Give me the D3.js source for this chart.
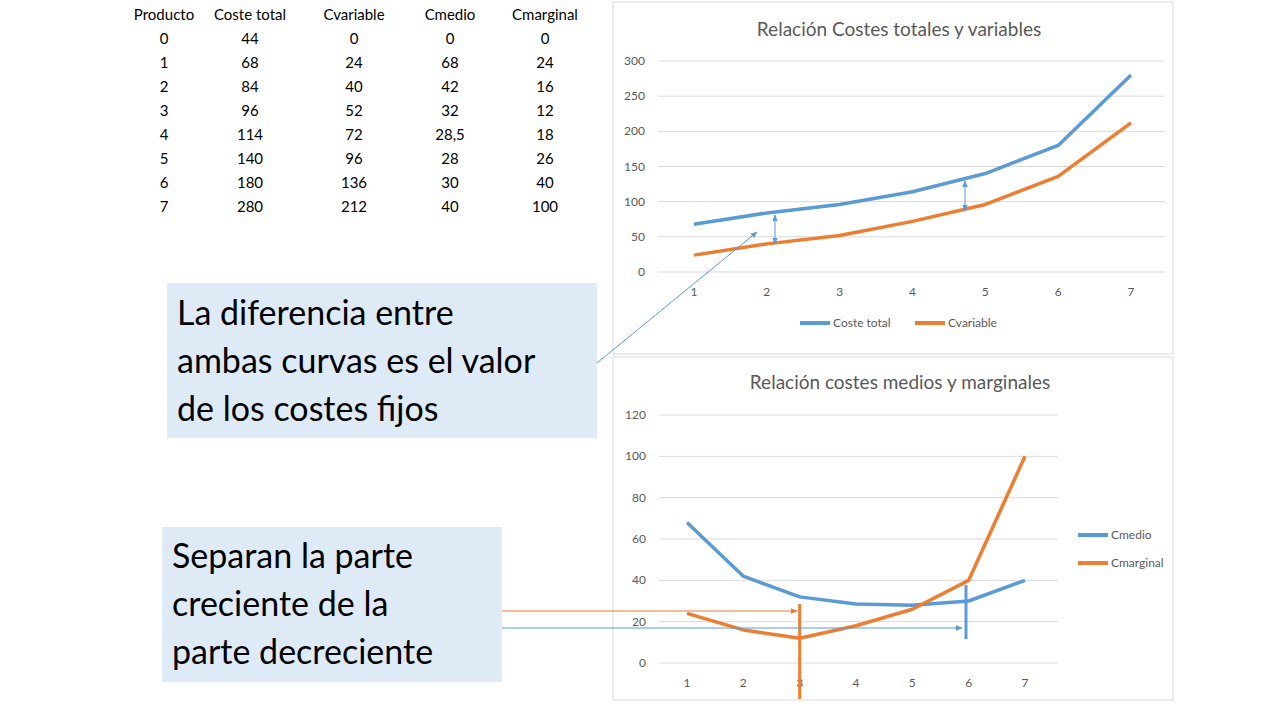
<!DOCTYPE html><html><head><meta charset="utf-8"><script src="https://cdn.jsdelivr.net/npm/d3@7"></script>
<style>body{margin:0;background:#fff}svg{font-family:Lato,"Open Sans",sans-serif}</style></head><body>
<script>
const headers=["Producto","Coste total","Cvariable","Cmedio","Cmarginal"];
const producto=[0,1,2,3,4,5,6,7];
const costeTotal=[44,68,84,96,114,140,180,280];
const cvariable=[0,24,40,52,72,96,136,212];
const cmedio=["0","68","42","32","28,5","28","30","40"];
const cmarginal=[0,24,16,12,18,26,40,100];
const cmedioVals=[68,42,32,28.5,28,30,40];
const blue="#5b9bd5",orange="#ed7d31";
const svg=d3.select("body").append("svg").attr("width",1280).attr("height",720);
const defs=svg.append("defs");
[["ab",blue],["ao",orange]].forEach(([id,c])=>{
 defs.append("marker").attr("id",id).attr("viewBox","0 0 10 10").attr("refX",9).attr("refY",5).attr("markerWidth",7).attr("markerHeight",7).attr("orient","auto-start-reverse").append("path").attr("d","M0,1L10,5L0,9Z").attr("fill",c);
});
defs.append("clipPath").attr("id","cl").append("rect").attr("x",613).attr("y",0).attr("width",552).attr("height",720);
// table
const cols=[164,250,354,450,545];
const tbl=[producto,costeTotal,cvariable,cmedio,cmarginal];
headers.forEach((h,i)=>{
 svg.append("text").attr("x",cols[i]).attr("y",20).attr("text-anchor","middle").attr("font-size",15).text(h);
 tbl[i].forEach((v,j)=>svg.append("text").attr("x",cols[i]).attr("y",44+24*j).attr("text-anchor","middle").attr("font-size",15).text(v));
});
// frames
svg.append("rect").attr("x",613).attr("y",2).attr("width",560).attr("height",352).attr("fill","none").attr("stroke","#d9d9d9");
svg.append("rect").attr("x",613).attr("y",357).attr("width",560).attr("height",343).attr("fill","none").attr("stroke","#d9d9d9");
const xs=[1,2,3,4,5,6,7];
function chart(cfg){
 const g=svg.append("g").attr("clip-path","url(#cl)");
 const x=d3.scalePoint().domain(xs).range(cfg.xr);
 const y=d3.scaleLinear().domain([0,cfg.ymax]).range(cfg.yr);
 const ticks=d3.range(0,cfg.ymax+1,cfg.step);
 g.selectAll(".gl").data(ticks).join("line").attr("x1",cfg.gx[0]).attr("x2",cfg.gx[1]).attr("y1",d=>y(d)).attr("y2",d=>y(d)).attr("stroke","#d9d9d9");
 g.selectAll(".yl").data(ticks).join("text").attr("x",cfg.gx[0]-13).attr("y",d=>y(d)+4).attr("text-anchor","end").attr("font-size",12).attr("fill","#595959").text(d=>d);
 g.selectAll(".xl").data(xs).join("text").attr("x",d=>x(d)).attr("y",cfg.yr[0]+24).attr("text-anchor","middle").attr("font-size",12).attr("fill","#595959").text(d=>d);
 g.append("text").attr("x",cfg.tx).attr("y",cfg.ty).attr("text-anchor","middle").attr("font-size",19).attr("fill","#595959").text(cfg.title);
 const line=d3.line().x((d,i)=>x(xs[i])).y(d=>y(d));
 cfg.series.forEach(s=>g.append("path").attr("d",line(s.v)).attr("fill","none").attr("stroke",s.c).attr("stroke-width",3.5).attr("stroke-linejoin","round"));
 cfg.series.forEach((s,i)=>{
  const [lx,ly]=cfg.leg[i];
  g.append("line").attr("x1",lx).attr("x2",lx+30).attr("y1",ly).attr("y2",ly).attr("stroke",s.c).attr("stroke-width",4);
  g.append("text").attr("x",lx+33).attr("y",ly+4).attr("font-size",12).attr("fill","#595959").text(s.n);
 });
 return {x,y};
}
const c1=chart({xr:[694,1131],yr:[272,61],gx:[658,1165],ymax:300,step:50,title:"Relación Costes totales y variables",tx:899,ty:36,
 series:[{n:"Coste total",v:costeTotal.slice(1),c:blue},{n:"Cvariable",v:cvariable.slice(1),c:orange}],leg:[[800,323],[915,323]]});
const c2=chart({xr:[687,1025],yr:[663,415],gx:[659,1058],ymax:120,step:20,title:"Relación costes medios y marginales",tx:900,ty:389,
 series:[{n:"Cmedio",v:cmedioVals,c:blue},{n:"Cmarginal",v:cmarginal.slice(1),c:orange}],leg:[[1078,535],[1078,563]]});
// annotations top
svg.append("line").attr("x1",775).attr("x2",775).attr("y1",215).attr("y2",244).attr("stroke",blue).attr("marker-start","url(#ab)").attr("marker-end","url(#ab)");
svg.append("line").attr("x1",965).attr("x2",965).attr("y1",181).attr("y2",211).attr("stroke",blue).attr("marker-start","url(#ab)").attr("marker-end","url(#ab)");
svg.append("line").attr("x1",597).attr("x2",757).attr("y1",363).attr("y2",232).attr("stroke",blue).attr("marker-end","url(#ab)");
// bottom
svg.append("line").attr("x1",c2.x(3)).attr("x2",c2.x(3)).attr("y1",604).attr("y2",699).attr("stroke",orange).attr("stroke-width",3);
svg.append("line").attr("x1",966).attr("x2",966).attr("y1",585).attr("y2",639).attr("stroke",blue).attr("stroke-width",3);
svg.append("line").attr("x1",470).attr("x2",797).attr("y1",611).attr("y2",611).attr("stroke",orange).attr("marker-end","url(#ao)");
svg.append("line").attr("x1",487).attr("x2",962).attr("y1",628).attr("y2",628).attr("stroke",blue).attr("marker-end","url(#ab)");
// boxes
function box(x,y,w,h,lines,bl){
 svg.append("rect").attr("x",x).attr("y",y).attr("width",w).attr("height",h).attr("fill","#deebf7");
 lines.forEach((t,i)=>svg.append("text").attr("x",x+10).attr("y",bl+i*48).attr("font-size",34).attr("fill","#000").text(t));
}
box(167,283,430,155,["La diferencia entre","ambas curvas es el valor","de los costes fijos"],325);
box(162,527,340,155,["Separan la parte","creciente de la","parte decreciente"],568);
</script></body></html>
